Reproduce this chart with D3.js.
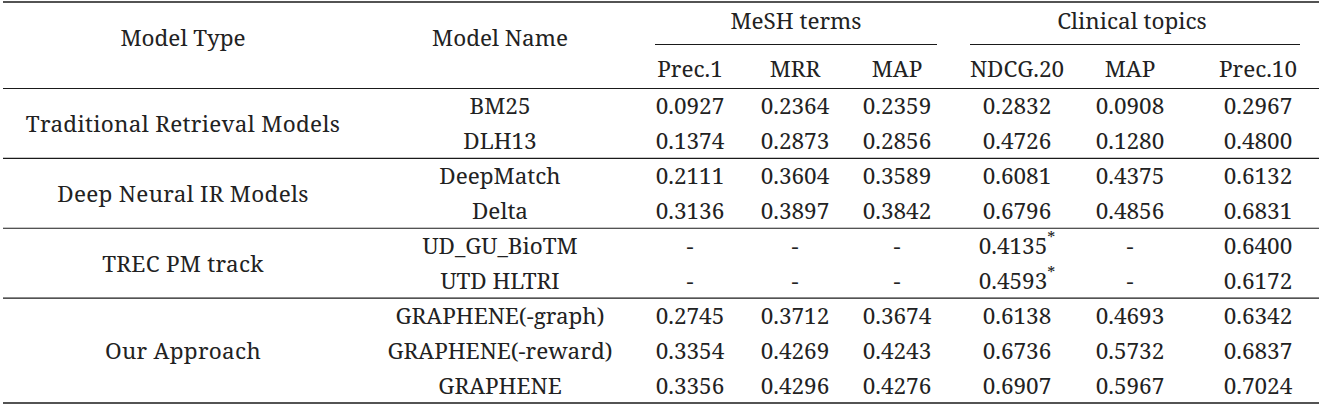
<!DOCTYPE html>
<html>
<head>
<meta charset="utf-8">
<script src="https://cdn.jsdelivr.net/npm/d3@7"></script>
<style>
  body { margin: 0; background: #fff; }
</style>
</head>
<body>
<script>
// table content
let modelTypes = ["Traditional Retrieval Models", "Deep Neural IR Models",
                  "TREC PM track", "Our Approach"];
let groupSizes = [2, 2, 2, 3];
let modelNames = ["BM25", "DLH13", "DeepMatch", "Delta", "UD_GU_BioTM",
                  "UTD HLTRI", "GRAPHENE(-graph)", "GRAPHENE(-reward)", "GRAPHENE"];
let metricGroups = ["MeSH terms", "Clinical topics"];
let metricNames = ["Prec.1", "MRR", "MAP", "NDCG.20", "MAP", "Prec.10"];

// values per column, null = "-"
let meshPrec1 = [0.0927, 0.1374, 0.2111, 0.3136, null, null, 0.2745, 0.3354, 0.3356];
let meshMRR = [0.2364, 0.2873, 0.3604, 0.3897, null, null, 0.3712, 0.4269, 0.4296];
let meshMAP = [0.2359, 0.2856, 0.3589, 0.3842, null, null, 0.3674, 0.4243, 0.4276];
let clinNDCG20 = [0.2832, 0.4726, 0.6081, 0.6796, 0.4135, 0.4593, 0.6138, 0.6736, 0.6907];
let clinMAP = [0.0908, 0.1280, 0.4375, 0.4856, null, null, 0.4693, 0.5732, 0.5967];
let clinPrec10 = [0.2967, 0.4800, 0.6132, 0.6831, 0.6400, 0.6172, 0.6342, 0.6837, 0.7024];
// cells marked with an asterisk
let starred = [[3, 4], [3, 5]];

window.onload = function() {
    let w = 1322, h = 408;
    let svg = d3.select("body").append("svg")
                .attr("width", w).attr("height", h);

    let columns = [meshPrec1, meshMRR, meshMAP, clinNDCG20, clinMAP, clinPrec10];
    let fmt = d3.format(".4f");
    let fs = 22.5;
    let font = "Noto Serif";

    // column centres
    let colX = d3.scaleOrdinal()
                 .domain(d3.range(6))
                 .range([690, 795, 897, 1017, 1130, 1258]);
    let typeX = 183, nameX = 500;
    let groupSpan = [[655, 937], [970, 1300]];
    let left = 3, right = 1319;

    // row scale over body rows
    let nRows = modelNames.length;
    let y = d3.scaleLinear().domain([0, nRows]).range([88.5, 403]);

    // rules
    let rule = function(x1, x2, yy, sw) {
        svg.append("line")
           .attr("x1", x1).attr("x2", x2)
           .attr("y1", yy).attr("y2", yy)
           .attr("stroke", "#1a1a1a")
           .attr("stroke-width", sw);
    };
    rule(left, right, 2, 1.6);
    rule(left, right, y(0), 1.1);
    let bounds = d3.cumsum(groupSizes);
    bounds.slice(0, -1).forEach(function(b) { rule(left, right, y(b), 1.1); });
    rule(left, right, y(nRows), 1.6);
    groupSpan.forEach(function(s) { rule(s[0], s[1], 44.5, 1); });

    let label = function(x, yy, str) {
        return svg.append("text")
                  .attr("x", x).attr("y", yy)
                  .attr("text-anchor", "middle")
                  .attr("dominant-baseline", "central")
                  .style("font-family", font)
                  .style("font-size", fs + "px")
                  .attr("fill", "#222")
                  .text(str);
    };

    // header
    label(typeX, 37, "Model Type");
    label(nameX, 37, "Model Name");
    label(1132, 20, metricGroups[1]);
    label((groupSpan[0][0] + groupSpan[0][1]) / 2, 20, metricGroups[0]);
    metricNames.forEach(function(m, i) { label(colX(i), 68, m); });

    // model types, centred over their group
    let starts = [0].concat(Array.from(bounds).slice(0, -1));
    modelTypes.forEach(function(t, i) {
        label(typeX, y(starts[i] + groupSizes[i] / 2), t)
            .style("letter-spacing", "0.3px");
    });

    // model names
    modelNames.forEach(function(n, r) { label(nameX, y(r + 0.5), n); });

    // values
    columns.forEach(function(col, c) {
        col.forEach(function(v, r) {
            let t = label(colX(c), y(r + 0.5), v === null ? "-" : fmt(v));
            let isStar = starred.some(function(s) { return s[0] === c && s[1] === r; });
            if (isStar) {
                t.attr("text-anchor", "start");
                t.append("tspan")
                 .attr("dy", -8)
                 .style("font-size", "16px")
                 .text("*");
                let len = t.node().getComputedTextLength();
                t.attr("x", colX(c) - len / 2);
            }
        });
    });
};
</script>
</body>
</html>
